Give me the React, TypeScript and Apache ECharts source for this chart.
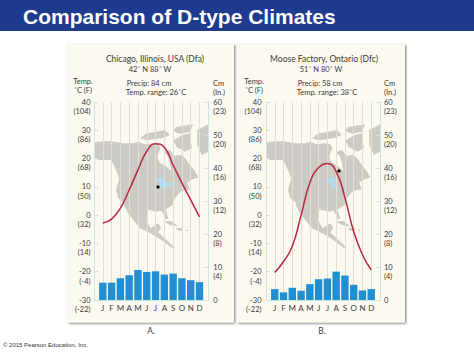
import React, { useEffect, useRef } from "react";
import * as echarts from "echarts";

const months = ["", "J", "F", "M", "A", "M", "J", "J", "A", "S", "O", "N", "D", ""];
const chicagoTemp = [null, -2.8, -1.4, 2.5, 8.9, 16, 22.6, 25.2, 24, 17.7, 11.4, 5.4, -0.6, null];
const chicagoPrecip = [null, 5.25, 5.25, 6.6, 7.5, 9.1, 8.5, 8.7, 7.7, 8.0, 6.6, 6.0, 5.4, null];
const mooseTemp = [null, -20.3, -16.4, -11, 0, 11.4, 16.8, 18.3, 15.4, 6.2, -5.8, -14, -19.4, null];
const moosePrecip = [null, 3.3, 2.3, 3.7, 2.8, 4.8, 6.3, 6.5, 8.6, 7.4, 4.6, 2.9, 3.3, null];
const fahrenheitLabels = ["(-22)", "(-4)", "(14)", "(32)", "(50)", "(68)", "(86)", "(104)"];
const inchLabels = ["", "(4)", "(8)", "(12)", "(16)", "(20)", "(23)"];

const FONT = "Lato";
const TXT = "#3c3c3c";

const LAND =
  "M12 85 L20 80 L60 78 L100 85 L130 85 L145 80 L165 88 L190 85 L205 88 L212 100 L206 112 L202 126 L208 142 L226 152 L244 168 L240 145 L235 125 L222 112 L240 104 L252 122 L275 120 L288 132 L300 150 L312 165 L326 188 L310 192 L292 203 L300 224 L285 225 L270 232 L255 250 L248 270 L226 284 L236 312 L228 312 L216 288 L197 290 L172 284 L170 318 L182 340 L205 325 L214 340 L204 352 L230 375 L256 400 L245 399 L210 372 L180 354 L150 340 L130 315 L112 285 L100 262 L85 250 L78 225 L88 190 L80 170 L64 136 L50 135 L25 135 L12 125 Z " +
  "M150 70 L170 55 L200 50 L225 45 L240 60 L215 70 L170 76 Z " +
  "M258 36 L310 28 L300 50 L270 56 L250 48 Z " +
  "M280 60 L300 55 L306 100 L286 110 L260 96 L250 76 Z " +
  "M322 45 L355 28 L355 110 L336 120 L322 90 Z " +
  "M222 320 L245 318 L265 335 L240 330 Z " +
  "M258 339 L280 339 L276 348 L262 346 Z " +
  "M288 344 L297 346 L290 350 Z " +
  "M100 268 L106 270 L126 308 L118 302 Z";
const LAKES_A =
  "M198 192 L214 185 L224 198 L250 205 L240 215 L220 222 L206 218 L212 204 Z";
const LAKES_B =
  "M198 192 L210 185 L224 196 L216 204 L226 216 L210 220 L204 206 Z";
echarts.graphic.registerShape("landMass", echarts.graphic.extendPath(LAND, {}));
echarts.graphic.registerShape("lakesA", echarts.graphic.extendPath(LAKES_A, {}));
echarts.graphic.registerShape("lakesB", echarts.graphic.extendPath(LAKES_B, {}));

const label = (text: string, x: number, y: number, align = "center", size = 7.5) => ({
  type: "text", z: 5, x, y,
  style: { text, fill: TXT, font: `${size}px ${FONT}`, textAlign: align, textVerticalAlign: "middle" },
});
const panel = (x: number, w: number) => ({
  type: "rect", z: -10, shape: { x, y: 44, width: w, height: 278.5 },
  style: { fill: "#fbf9f0", shadowBlur: 2, shadowOffsetX: 1, shadowOffsetY: 1, shadowColor: "rgba(0,0,0,0.55)" },
});
const map = (x: number, lakes: string) => [
  { type: "landMass", z: -5, x, y: 115, scaleX: 1 / 3, scaleY: 1 / 3, style: { fill: "#cccbc5" } },
  { type: lakes, z: -4, x, y: 115, scaleX: 1 / 3, scaleY: 1 / 3, style: { fill: "#b4dcf0" } },
];
const dot = (x: number, y: number) => ({
  type: "circle", z: 6, shape: { cx: x, cy: y, r: 1.6 }, style: { fill: "#000" },
});

const axisLineColor = "#cfe3e2";
const xAxis = (gridIndex: number) => ({
  type: "category", gridIndex, data: months, boundaryGap: false,
  axisLine: { onZero: false, lineStyle: { color: axisLineColor, width: 1 } },
  axisTick: { show: false },
  axisLabel: { interval: 0, fontSize: 8, fontFamily: FONT, color: TXT, margin: 4 },
  splitLine: { show: true, interval: 0, lineStyle: { color: "#e2dfd2", width: 1 } },
});
const tempAxis = (gridIndex: number, margin: number) => ({
  type: "value", gridIndex, min: -30, max: 40, interval: 10, position: "left",
  axisLine: { show: true, lineStyle: { color: axisLineColor } },
  axisTick: { show: true, inside: true, length: 4, lineStyle: { color: axisLineColor } },
  splitLine: { show: false },
  axisLabel: {
    margin, fontSize: 7.5, fontFamily: FONT, color: TXT, lineHeight: 9.3, align: "right",
    formatter: (v: number) => `\n${v}\n${fahrenheitLabels[(v + 30) / 10]}`,
  },
});
const precipAxis = (gridIndex: number, margin: number) => ({
  type: "value", gridIndex, min: 0, max: 60, interval: 10, position: "right",
  axisLine: { show: true, lineStyle: { color: axisLineColor } },
  axisTick: { show: true, inside: true, length: 4, lineStyle: { color: axisLineColor } },
  splitLine: { show: false },
  axisLabel: {
    margin, fontSize: 7.5, fontFamily: FONT, color: TXT, lineHeight: 9.3, align: "left",
    formatter: (v: number) => (v === 0 ? "0" : `\n${v}\n${inchLabels[v / 10]}`),
  },
});
const bars = (data: (number | null)[], xAxisIndex: number, yAxisIndex: number) => ({
  type: "bar", xAxisIndex, yAxisIndex, data, barWidth: 7.4, z: 3,
  itemStyle: { color: "#2090d2" },
});
const line = (data: (number | null)[], xAxisIndex: number, yAxisIndex: number) => ({
  type: "line", xAxisIndex, yAxisIndex, data, smooth: 0.5, symbol: "none", z: 4,
  lineStyle: { color: "#b9283f", width: 1.5 },
});

export default function App() {
  const ref = useRef<HTMLDivElement>(null);
  useEffect(() => {
    const chart = echarts.init(ref.current!, null, { renderer: "svg" });
    chart.setOption({
      animation: false,
      backgroundColor: "#ffffff",
      grid: [
        { left: 94, top: 102, width: 114.3, height: 198 },
        { left: 266, top: 102, width: 114, height: 198 },
      ],
      xAxis: [xAxis(0), xAxis(1)],
      yAxis: [tempAxis(0, 3.5), precipAxis(0, 5), tempAxis(1, 4.5), precipAxis(1, 4)],
      series: [
        bars(chicagoPrecip, 0, 1),
        line(chicagoTemp, 0, 0),
        bars(moosePrecip, 1, 3),
        line(mooseTemp, 1, 2),
      ],
      graphic: [
        { type: "rect", z: -10, shape: { x: 0, y: 0, width: 474, height: 31 }, style: { fill: "#1d3a8e" } },
        {
          type: "text", z: 5, x: 23, y: 16,
          style: { text: "Comparison of D-type Climates", fill: "#fff", font: "bold 21px 'Liberation Sans'", textVerticalAlign: "middle" },
        },
        panel(67.5, 166.5),
        panel(237, 168),
        ...map(90, "lakesA"),
        ...map(262, "lakesB"),
        dot(158, 187),
        dot(339, 171),
        label("Chicago, Illinois, USA (Dfa)", 155, 58.5, "center", 8.5),
        label("42˚ N 88˚ W", 150, 69),
        label("Precip: 84 cm", 149, 83.5),
        label("Temp. range: 26˚C", 156, 92),
        label("Temp.", 83, 81),
        label("˚C (F)", 83, 90),
        label("Cm", 213, 83, "left"),
        label("(In.)", 213, 92, "left"),
        label("Moose Factory, Ontario (Dfc)", 324, 58.5, "center", 8.5),
        label("51˚ N 80˚ W", 321, 69),
        label("Precip: 58 cm", 320, 83.5),
        label("Temp. range: 38˚C", 327, 92),
        label("Temp.", 254, 81),
        label("˚C (F)", 254, 90),
        label("Cm", 384, 83, "left"),
        label("(In.)", 384, 92, "left"),
        label("A.", 151, 331, "center", 8.5),
        label("B.", 322, 331, "center", 8.5),
        {
          type: "text", z: 5, x: 3, y: 345,
          style: { text: "© 2015 Pearson Education, Inc.", fill: "#333", font: "6px 'Liberation Sans'", textVerticalAlign: "middle" },
        },
      ],
    });
    return () => chart.dispose();
  }, []);
  return <div ref={ref} style={{ position: "fixed", left: 0, top: 0, width: 474, height: 355 }} />;
}
